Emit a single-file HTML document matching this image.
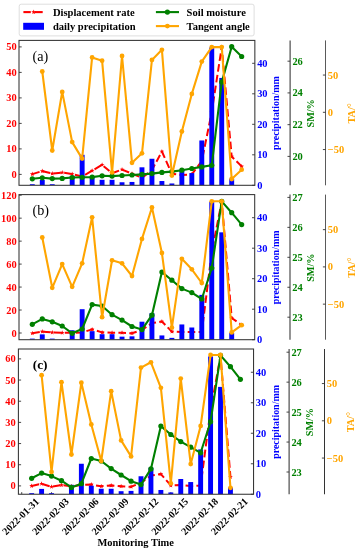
<!DOCTYPE html>
<html><head><meta charset="utf-8"><title>Monitoring chart</title>
<style>html,body{margin:0;padding:0;background:#fff;}body{width:356px;height:550px;overflow:hidden;}svg{display:block;}</style>
</head><body>
<svg width="356" height="550" viewBox="0 0 356 550" font-family='"Liberation Serif", "Times New Roman", serif'><g>
<clipPath id="clipa"><rect x="19" y="40.4" width="235.85" height="144.9"/></clipPath>
<g clip-path="url(#clipa)">
<polyline points="32.3,174.1 42.27,171.1 52.24,173.6 62.21,172.5 72.18,174 82.15,176.5 92.12,170.7 102.09,164.8 112.06,173.3 122.03,169.5 132,173.7 141.97,177.8 151.94,170 161.91,151.5 171.88,173.8 181.85,175 191.82,174.3 201.79,161 211.76,112 221.73,47 231.7,156.6 241.67,166.4" fill="none" stroke="#ff0000" stroke-width="2" stroke-dasharray="7.6 3.3" stroke-linejoin="round"/>
<polygon points="32.3,171.6 32.92,173.25 34.68,173.33 33.3,174.42 33.77,176.12 32.3,175.15 30.83,176.12 31.3,174.42 29.92,173.33 31.68,173.25" fill="#ff0000"/>
<polygon points="42.27,168.6 42.89,170.25 44.65,170.33 43.27,171.42 43.74,173.12 42.27,172.15 40.8,173.12 41.27,171.42 39.89,170.33 41.65,170.25" fill="#ff0000"/>
<polygon points="52.24,171.1 52.86,172.75 54.62,172.83 53.24,173.92 53.71,175.62 52.24,174.65 50.77,175.62 51.24,173.92 49.86,172.83 51.62,172.75" fill="#ff0000"/>
<polygon points="62.21,170 62.83,171.65 64.59,171.73 63.21,172.82 63.68,174.52 62.21,173.55 60.74,174.52 61.21,172.82 59.83,171.73 61.59,171.65" fill="#ff0000"/>
<polygon points="72.18,171.5 72.8,173.15 74.56,173.23 73.18,174.32 73.65,176.02 72.18,175.05 70.71,176.02 71.18,174.32 69.8,173.23 71.56,173.15" fill="#ff0000"/>
<polygon points="82.15,174 82.77,175.65 84.53,175.73 83.15,176.82 83.62,178.52 82.15,177.55 80.68,178.52 81.15,176.82 79.77,175.73 81.53,175.65" fill="#ff0000"/>
<polygon points="92.12,168.2 92.74,169.85 94.5,169.93 93.12,171.02 93.59,172.72 92.12,171.75 90.65,172.72 91.12,171.02 89.74,169.93 91.5,169.85" fill="#ff0000"/>
<polygon points="102.09,162.3 102.71,163.95 104.47,164.03 103.09,165.12 103.56,166.82 102.09,165.85 100.62,166.82 101.09,165.12 99.71,164.03 101.47,163.95" fill="#ff0000"/>
<polygon points="112.06,170.8 112.68,172.45 114.44,172.53 113.06,173.62 113.53,175.32 112.06,174.35 110.59,175.32 111.06,173.62 109.68,172.53 111.44,172.45" fill="#ff0000"/>
<polygon points="122.03,167 122.65,168.65 124.41,168.73 123.03,169.82 123.5,171.52 122.03,170.55 120.56,171.52 121.03,169.82 119.65,168.73 121.41,168.65" fill="#ff0000"/>
<polygon points="132,171.2 132.62,172.85 134.38,172.93 133,174.02 133.47,175.72 132,174.75 130.53,175.72 131,174.02 129.62,172.93 131.38,172.85" fill="#ff0000"/>
<polygon points="141.97,175.3 142.59,176.95 144.35,177.03 142.97,178.12 143.44,179.82 141.97,178.85 140.5,179.82 140.97,178.12 139.59,177.03 141.35,176.95" fill="#ff0000"/>
<polygon points="151.94,167.5 152.56,169.15 154.32,169.23 152.94,170.32 153.41,172.02 151.94,171.05 150.47,172.02 150.94,170.32 149.56,169.23 151.32,169.15" fill="#ff0000"/>
<polygon points="161.91,149 162.53,150.65 164.29,150.73 162.91,151.82 163.38,153.52 161.91,152.55 160.44,153.52 160.91,151.82 159.53,150.73 161.29,150.65" fill="#ff0000"/>
<polygon points="171.88,171.3 172.5,172.95 174.26,173.03 172.88,174.12 173.35,175.82 171.88,174.85 170.41,175.82 170.88,174.12 169.5,173.03 171.26,172.95" fill="#ff0000"/>
<polygon points="181.85,172.5 182.47,174.15 184.23,174.23 182.85,175.32 183.32,177.02 181.85,176.05 180.38,177.02 180.85,175.32 179.47,174.23 181.23,174.15" fill="#ff0000"/>
<polygon points="191.82,171.8 192.44,173.45 194.2,173.53 192.82,174.62 193.29,176.32 191.82,175.35 190.35,176.32 190.82,174.62 189.44,173.53 191.2,173.45" fill="#ff0000"/>
<polygon points="201.79,158.5 202.41,160.15 204.17,160.23 202.79,161.32 203.26,163.02 201.79,162.05 200.32,163.02 200.79,161.32 199.41,160.23 201.17,160.15" fill="#ff0000"/>
<polygon points="211.76,109.5 212.38,111.15 214.14,111.23 212.76,112.32 213.23,114.02 211.76,113.05 210.29,114.02 210.76,112.32 209.38,111.23 211.14,111.15" fill="#ff0000"/>
<polygon points="221.73,44.5 222.35,46.15 224.11,46.23 222.73,47.32 223.2,49.02 221.73,48.05 220.26,49.02 220.73,47.32 219.35,46.23 221.11,46.15" fill="#ff0000"/>
<polygon points="231.7,154.1 232.32,155.75 234.08,155.83 232.7,156.92 233.17,158.62 231.7,157.65 230.23,158.62 230.7,156.92 229.32,155.83 231.08,155.75" fill="#ff0000"/>
<polygon points="241.67,163.9 242.29,165.55 244.05,165.63 242.67,166.72 243.14,168.42 241.67,167.45 240.2,168.42 240.67,166.72 239.29,165.63 241.05,165.55" fill="#ff0000"/>
<rect x="29.85" y="184.23" width="4.9" height="1.07" fill="#0000ff"/>
<rect x="39.82" y="179.96" width="4.9" height="5.34" fill="#0000ff"/>
<rect x="49.79" y="184.23" width="4.9" height="1.07" fill="#0000ff"/>
<rect x="69.73" y="175.84" width="4.9" height="9.46" fill="#0000ff"/>
<rect x="79.7" y="154.8" width="4.9" height="30.5" fill="#0000ff"/>
<rect x="89.67" y="176.76" width="4.9" height="8.54" fill="#0000ff"/>
<rect x="99.64" y="179.81" width="4.9" height="5.49" fill="#0000ff"/>
<rect x="109.61" y="179.81" width="4.9" height="5.49" fill="#0000ff"/>
<rect x="119.58" y="182.25" width="4.9" height="3.05" fill="#0000ff"/>
<rect x="129.55" y="181.95" width="4.9" height="3.35" fill="#0000ff"/>
<rect x="139.52" y="167.31" width="4.9" height="18" fill="#0000ff"/>
<rect x="149.49" y="158.77" width="4.9" height="26.53" fill="#0000ff"/>
<rect x="159.46" y="181.03" width="4.9" height="4.27" fill="#0000ff"/>
<rect x="169.43" y="183.47" width="4.9" height="1.83" fill="#0000ff"/>
<rect x="179.4" y="170.05" width="4.9" height="15.25" fill="#0000ff"/>
<rect x="189.37" y="173.1" width="4.9" height="12.2" fill="#0000ff"/>
<rect x="199.34" y="140.47" width="4.9" height="44.83" fill="#0000ff"/>
<rect x="209.31" y="47.44" width="4.9" height="137.86" fill="#0000ff"/>
<rect x="219.28" y="77.94" width="4.9" height="107.36" fill="#0000ff"/>
<rect x="229.25" y="178.59" width="4.9" height="6.71" fill="#0000ff"/>
<polyline points="32.3,178.8 42.27,177.8 52.24,178.6 62.21,178.4 72.18,177.5 82.15,177.3 92.12,177.1 102.09,175.8 112.06,176.1 122.03,175.5 132,175 141.97,174.4 151.94,173.6 161.91,172.4 171.88,171.6 181.85,170.2 191.82,168.5 201.79,166.9 211.76,165.3 221.73,82.1 231.7,46.7 241.67,56.5" fill="none" stroke="#008000" stroke-width="2.1" stroke-linejoin="round"/>
<circle cx="32.3" cy="178.8" r="2.6" fill="#008000"/>
<circle cx="42.27" cy="177.8" r="2.6" fill="#008000"/>
<circle cx="52.24" cy="178.6" r="2.6" fill="#008000"/>
<circle cx="62.21" cy="178.4" r="2.6" fill="#008000"/>
<circle cx="72.18" cy="177.5" r="2.6" fill="#008000"/>
<circle cx="82.15" cy="177.3" r="2.6" fill="#008000"/>
<circle cx="92.12" cy="177.1" r="2.6" fill="#008000"/>
<circle cx="102.09" cy="175.8" r="2.6" fill="#008000"/>
<circle cx="112.06" cy="176.1" r="2.6" fill="#008000"/>
<circle cx="122.03" cy="175.5" r="2.6" fill="#008000"/>
<circle cx="132" cy="175" r="2.6" fill="#008000"/>
<circle cx="141.97" cy="174.4" r="2.6" fill="#008000"/>
<circle cx="151.94" cy="173.6" r="2.6" fill="#008000"/>
<circle cx="161.91" cy="172.4" r="2.6" fill="#008000"/>
<circle cx="171.88" cy="171.6" r="2.6" fill="#008000"/>
<circle cx="181.85" cy="170.2" r="2.6" fill="#008000"/>
<circle cx="191.82" cy="168.5" r="2.6" fill="#008000"/>
<circle cx="201.79" cy="166.9" r="2.6" fill="#008000"/>
<circle cx="211.76" cy="165.3" r="2.6" fill="#008000"/>
<circle cx="221.73" cy="82.1" r="2.6" fill="#008000"/>
<circle cx="231.7" cy="46.7" r="2.6" fill="#008000"/>
<circle cx="241.67" cy="56.5" r="2.6" fill="#008000"/>
<polyline points="42.27,71.5 52.24,150.5 62.21,91.9 72.18,142.1 82.15,158.6 92.12,57.4 102.09,60.7 112.06,172.4 122.03,56 132,162.8 141.97,153.3 151.94,59.9 161.91,49.8 171.88,175.5 181.85,131.5 191.82,93.9 201.79,61.6 211.76,47.1 221.73,47.1 231.7,179 241.67,169.7" fill="none" stroke="#ffa500" stroke-width="2.1" stroke-linejoin="round"/>
<circle cx="42.27" cy="71.5" r="2.4" fill="#ffa500"/>
<circle cx="52.24" cy="150.5" r="2.4" fill="#ffa500"/>
<circle cx="62.21" cy="91.9" r="2.4" fill="#ffa500"/>
<circle cx="72.18" cy="142.1" r="2.4" fill="#ffa500"/>
<circle cx="82.15" cy="158.6" r="2.4" fill="#ffa500"/>
<circle cx="92.12" cy="57.4" r="2.4" fill="#ffa500"/>
<circle cx="102.09" cy="60.7" r="2.4" fill="#ffa500"/>
<circle cx="112.06" cy="172.4" r="2.4" fill="#ffa500"/>
<circle cx="122.03" cy="56" r="2.4" fill="#ffa500"/>
<circle cx="132" cy="162.8" r="2.4" fill="#ffa500"/>
<circle cx="141.97" cy="153.3" r="2.4" fill="#ffa500"/>
<circle cx="151.94" cy="59.9" r="2.4" fill="#ffa500"/>
<circle cx="161.91" cy="49.8" r="2.4" fill="#ffa500"/>
<circle cx="171.88" cy="175.5" r="2.4" fill="#ffa500"/>
<circle cx="181.85" cy="131.5" r="2.4" fill="#ffa500"/>
<circle cx="191.82" cy="93.9" r="2.4" fill="#ffa500"/>
<circle cx="201.79" cy="61.6" r="2.4" fill="#ffa500"/>
<circle cx="211.76" cy="47.1" r="2.4" fill="#ffa500"/>
<circle cx="221.73" cy="47.1" r="2.4" fill="#ffa500"/>
<circle cx="231.7" cy="179" r="2.4" fill="#ffa500"/>
<circle cx="241.67" cy="169.7" r="2.4" fill="#ffa500"/>
</g>
<rect x="19" y="40.4" width="235.85" height="144.9" fill="none" stroke="#333333" stroke-width="1.05"/>
<line x1="19" y1="174.4" x2="21.7" y2="174.4" stroke="#333333" stroke-width="0.9"/>
<text x="16.7" y="177.95" font-size="10.45" fill="#ff0000" text-anchor="end" font-weight="bold">0</text>
<line x1="19" y1="148.9" x2="21.7" y2="148.9" stroke="#333333" stroke-width="0.9"/>
<text x="16.7" y="152.45" font-size="10.45" fill="#ff0000" text-anchor="end" font-weight="bold">10</text>
<line x1="19" y1="123.4" x2="21.7" y2="123.4" stroke="#333333" stroke-width="0.9"/>
<text x="16.7" y="126.95" font-size="10.45" fill="#ff0000" text-anchor="end" font-weight="bold">20</text>
<line x1="19" y1="97.9" x2="21.7" y2="97.9" stroke="#333333" stroke-width="0.9"/>
<text x="16.7" y="101.45" font-size="10.45" fill="#ff0000" text-anchor="end" font-weight="bold">30</text>
<line x1="19" y1="72.4" x2="21.7" y2="72.4" stroke="#333333" stroke-width="0.9"/>
<text x="16.7" y="75.95" font-size="10.45" fill="#ff0000" text-anchor="end" font-weight="bold">40</text>
<line x1="19" y1="46.9" x2="21.7" y2="46.9" stroke="#333333" stroke-width="0.9"/>
<text x="16.7" y="50.45" font-size="10.45" fill="#ff0000" text-anchor="end" font-weight="bold">50</text>
<line x1="252.15" y1="185.3" x2="254.85" y2="185.3" stroke="#333333" stroke-width="0.9"/>
<text x="257.15" y="188.85" font-size="10.45" fill="#0000ff" text-anchor="start" font-weight="bold">0</text>
<line x1="252.15" y1="154.8" x2="254.85" y2="154.8" stroke="#333333" stroke-width="0.9"/>
<text x="257.15" y="158.35" font-size="10.45" fill="#0000ff" text-anchor="start" font-weight="bold">10</text>
<line x1="252.15" y1="124.3" x2="254.85" y2="124.3" stroke="#333333" stroke-width="0.9"/>
<text x="257.15" y="127.85" font-size="10.45" fill="#0000ff" text-anchor="start" font-weight="bold">20</text>
<line x1="252.15" y1="93.8" x2="254.85" y2="93.8" stroke="#333333" stroke-width="0.9"/>
<text x="257.15" y="97.35" font-size="10.45" fill="#0000ff" text-anchor="start" font-weight="bold">30</text>
<line x1="252.15" y1="63.3" x2="254.85" y2="63.3" stroke="#333333" stroke-width="0.9"/>
<text x="257.15" y="66.85" font-size="10.45" fill="#0000ff" text-anchor="start" font-weight="bold">40</text>
<line x1="290.1" y1="40.4" x2="290.1" y2="185.3" stroke="#333333" stroke-width="1.05"/>
<line x1="287.5" y1="156.4" x2="290.1" y2="156.4" stroke="#333333" stroke-width="0.9"/>
<text x="292.4" y="159.95" font-size="10.45" fill="#008000" text-anchor="start" font-weight="bold">20</text>
<line x1="287.5" y1="124.66" x2="290.1" y2="124.66" stroke="#333333" stroke-width="0.9"/>
<text x="292.4" y="128.21" font-size="10.45" fill="#008000" text-anchor="start" font-weight="bold">22</text>
<line x1="287.5" y1="92.92" x2="290.1" y2="92.92" stroke="#333333" stroke-width="0.9"/>
<text x="292.4" y="96.47" font-size="10.45" fill="#008000" text-anchor="start" font-weight="bold">24</text>
<line x1="287.5" y1="61.18" x2="290.1" y2="61.18" stroke="#333333" stroke-width="0.9"/>
<text x="292.4" y="64.73" font-size="10.45" fill="#008000" text-anchor="start" font-weight="bold">26</text>
<line x1="325.5" y1="40.4" x2="325.5" y2="185.3" stroke="#5a5a5a" stroke-width="1.05"/>
<line x1="322.9" y1="75.05" x2="325.5" y2="75.05" stroke="#333333" stroke-width="0.9"/>
<text x="327.8" y="78.6" font-size="10.45" fill="#ffa500" text-anchor="start" font-weight="bold">50</text>
<line x1="322.9" y1="112.3" x2="325.5" y2="112.3" stroke="#333333" stroke-width="0.9"/>
<text x="327.8" y="115.85" font-size="10.45" fill="#ffa500" text-anchor="start" font-weight="bold">0</text>
<line x1="322.9" y1="149.55" x2="325.5" y2="149.55" stroke="#333333" stroke-width="0.9"/>
<text x="327.8" y="153.1" font-size="10.45" fill="#ffa500" text-anchor="start" font-weight="bold">−50</text>
<text transform="translate(279.3 113.15) rotate(-90)" font-size="9.95" fill="#0000ff" text-anchor="middle" font-weight="bold">precipitation/mm</text>
<text transform="translate(314.3 113.35) rotate(-90)" font-size="10.2" fill="#008000" text-anchor="middle" font-weight="bold">SM/%</text>
<text transform="translate(355.3 113.35) rotate(-90)" font-size="10.2" fill="#ffa500" text-anchor="middle" font-weight="bold">TA/°</text>
<text x="32.5" y="60.7" font-size="14.2" fill="#000" text-anchor="start" font-weight="normal">(a)</text>
</g>
<g>
<clipPath id="clipb"><rect x="19" y="194.6" width="235.7" height="145.1"/></clipPath>
<g clip-path="url(#clipb)">
<polyline points="32.3,333.3 42.27,331.6 52.24,332.4 62.21,332.8 72.18,332.8 82.15,332.4 92.12,329.4 102.09,332.4 112.06,332.8 122.03,332.8 132,333.3 141.97,329.9 151.94,323.1 161.91,321.5 171.88,331.6 181.85,332.1 191.82,332.1 201.79,332.1 211.76,252 221.73,201.5 231.7,318 241.67,325" fill="none" stroke="#ff0000" stroke-width="2" stroke-dasharray="7.6 3.3" stroke-linejoin="round"/>
<polygon points="32.3,330.8 32.92,332.45 34.68,332.53 33.3,333.62 33.77,335.32 32.3,334.35 30.83,335.32 31.3,333.62 29.92,332.53 31.68,332.45" fill="#ff0000"/>
<polygon points="42.27,329.1 42.89,330.75 44.65,330.83 43.27,331.92 43.74,333.62 42.27,332.65 40.8,333.62 41.27,331.92 39.89,330.83 41.65,330.75" fill="#ff0000"/>
<polygon points="52.24,329.9 52.86,331.55 54.62,331.63 53.24,332.72 53.71,334.42 52.24,333.45 50.77,334.42 51.24,332.72 49.86,331.63 51.62,331.55" fill="#ff0000"/>
<polygon points="62.21,330.3 62.83,331.95 64.59,332.03 63.21,333.12 63.68,334.82 62.21,333.85 60.74,334.82 61.21,333.12 59.83,332.03 61.59,331.95" fill="#ff0000"/>
<polygon points="72.18,330.3 72.8,331.95 74.56,332.03 73.18,333.12 73.65,334.82 72.18,333.85 70.71,334.82 71.18,333.12 69.8,332.03 71.56,331.95" fill="#ff0000"/>
<polygon points="82.15,329.9 82.77,331.55 84.53,331.63 83.15,332.72 83.62,334.42 82.15,333.45 80.68,334.42 81.15,332.72 79.77,331.63 81.53,331.55" fill="#ff0000"/>
<polygon points="92.12,326.9 92.74,328.55 94.5,328.63 93.12,329.72 93.59,331.42 92.12,330.45 90.65,331.42 91.12,329.72 89.74,328.63 91.5,328.55" fill="#ff0000"/>
<polygon points="102.09,329.9 102.71,331.55 104.47,331.63 103.09,332.72 103.56,334.42 102.09,333.45 100.62,334.42 101.09,332.72 99.71,331.63 101.47,331.55" fill="#ff0000"/>
<polygon points="112.06,330.3 112.68,331.95 114.44,332.03 113.06,333.12 113.53,334.82 112.06,333.85 110.59,334.82 111.06,333.12 109.68,332.03 111.44,331.95" fill="#ff0000"/>
<polygon points="122.03,330.3 122.65,331.95 124.41,332.03 123.03,333.12 123.5,334.82 122.03,333.85 120.56,334.82 121.03,333.12 119.65,332.03 121.41,331.95" fill="#ff0000"/>
<polygon points="132,330.8 132.62,332.45 134.38,332.53 133,333.62 133.47,335.32 132,334.35 130.53,335.32 131,333.62 129.62,332.53 131.38,332.45" fill="#ff0000"/>
<polygon points="141.97,327.4 142.59,329.05 144.35,329.13 142.97,330.22 143.44,331.92 141.97,330.95 140.5,331.92 140.97,330.22 139.59,329.13 141.35,329.05" fill="#ff0000"/>
<polygon points="151.94,320.6 152.56,322.25 154.32,322.33 152.94,323.42 153.41,325.12 151.94,324.15 150.47,325.12 150.94,323.42 149.56,322.33 151.32,322.25" fill="#ff0000"/>
<polygon points="161.91,319 162.53,320.65 164.29,320.73 162.91,321.82 163.38,323.52 161.91,322.55 160.44,323.52 160.91,321.82 159.53,320.73 161.29,320.65" fill="#ff0000"/>
<polygon points="171.88,329.1 172.5,330.75 174.26,330.83 172.88,331.92 173.35,333.62 171.88,332.65 170.41,333.62 170.88,331.92 169.5,330.83 171.26,330.75" fill="#ff0000"/>
<polygon points="181.85,329.6 182.47,331.25 184.23,331.33 182.85,332.42 183.32,334.12 181.85,333.15 180.38,334.12 180.85,332.42 179.47,331.33 181.23,331.25" fill="#ff0000"/>
<polygon points="191.82,329.6 192.44,331.25 194.2,331.33 192.82,332.42 193.29,334.12 191.82,333.15 190.35,334.12 190.82,332.42 189.44,331.33 191.2,331.25" fill="#ff0000"/>
<polygon points="201.79,329.6 202.41,331.25 204.17,331.33 202.79,332.42 203.26,334.12 201.79,333.15 200.32,334.12 200.79,332.42 199.41,331.33 201.17,331.25" fill="#ff0000"/>
<polygon points="211.76,249.5 212.38,251.15 214.14,251.23 212.76,252.32 213.23,254.02 211.76,253.05 210.29,254.02 210.76,252.32 209.38,251.23 211.14,251.15" fill="#ff0000"/>
<polygon points="221.73,199 222.35,200.65 224.11,200.73 222.73,201.82 223.2,203.52 221.73,202.55 220.26,203.52 220.73,201.82 219.35,200.73 221.11,200.65" fill="#ff0000"/>
<polygon points="231.7,315.5 232.32,317.15 234.08,317.23 232.7,318.32 233.17,320.02 231.7,319.05 230.23,320.02 230.7,318.32 229.32,317.23 231.08,317.15" fill="#ff0000"/>
<polygon points="241.67,322.5 242.29,324.15 244.05,324.23 242.67,325.32 243.14,327.02 241.67,326.05 240.2,327.02 240.67,325.32 239.29,324.23 241.05,324.15" fill="#ff0000"/>
<rect x="29.85" y="338.63" width="4.9" height="1.07" fill="#0000ff"/>
<rect x="39.82" y="334.36" width="4.9" height="5.34" fill="#0000ff"/>
<rect x="49.79" y="338.63" width="4.9" height="1.07" fill="#0000ff"/>
<rect x="69.73" y="330.25" width="4.9" height="9.46" fill="#0000ff"/>
<rect x="79.7" y="309.2" width="4.9" height="30.5" fill="#0000ff"/>
<rect x="89.67" y="331.16" width="4.9" height="8.54" fill="#0000ff"/>
<rect x="99.64" y="334.21" width="4.9" height="5.49" fill="#0000ff"/>
<rect x="109.61" y="334.21" width="4.9" height="5.49" fill="#0000ff"/>
<rect x="119.58" y="336.65" width="4.9" height="3.05" fill="#0000ff"/>
<rect x="129.55" y="336.34" width="4.9" height="3.35" fill="#0000ff"/>
<rect x="139.52" y="321.7" width="4.9" height="18" fill="#0000ff"/>
<rect x="149.49" y="313.16" width="4.9" height="26.53" fill="#0000ff"/>
<rect x="159.46" y="335.43" width="4.9" height="4.27" fill="#0000ff"/>
<rect x="169.43" y="337.87" width="4.9" height="1.83" fill="#0000ff"/>
<rect x="179.4" y="324.45" width="4.9" height="15.25" fill="#0000ff"/>
<rect x="189.37" y="327.5" width="4.9" height="12.2" fill="#0000ff"/>
<rect x="199.34" y="294.87" width="4.9" height="44.83" fill="#0000ff"/>
<rect x="209.31" y="201.84" width="4.9" height="137.86" fill="#0000ff"/>
<rect x="219.28" y="232.34" width="4.9" height="107.36" fill="#0000ff"/>
<rect x="229.25" y="332.99" width="4.9" height="6.71" fill="#0000ff"/>
<polyline points="32.3,324.3 42.27,318.9 52.24,321.8 62.21,326 72.18,333.3 82.15,329 92.12,304.6 102.09,306 112.06,314.7 122.03,320.1 132,326.5 141.97,329.6 151.94,315.2 161.91,272.1 171.88,280.2 181.85,288.6 191.82,292.6 201.79,299 211.76,268 221.73,201.4 231.7,212.7 241.67,224.6" fill="none" stroke="#008000" stroke-width="2.1" stroke-linejoin="round"/>
<circle cx="32.3" cy="324.3" r="2.6" fill="#008000"/>
<circle cx="42.27" cy="318.9" r="2.6" fill="#008000"/>
<circle cx="52.24" cy="321.8" r="2.6" fill="#008000"/>
<circle cx="62.21" cy="326" r="2.6" fill="#008000"/>
<circle cx="72.18" cy="333.3" r="2.6" fill="#008000"/>
<circle cx="82.15" cy="329" r="2.6" fill="#008000"/>
<circle cx="92.12" cy="304.6" r="2.6" fill="#008000"/>
<circle cx="102.09" cy="306" r="2.6" fill="#008000"/>
<circle cx="112.06" cy="314.7" r="2.6" fill="#008000"/>
<circle cx="122.03" cy="320.1" r="2.6" fill="#008000"/>
<circle cx="132" cy="326.5" r="2.6" fill="#008000"/>
<circle cx="141.97" cy="329.6" r="2.6" fill="#008000"/>
<circle cx="151.94" cy="315.2" r="2.6" fill="#008000"/>
<circle cx="161.91" cy="272.1" r="2.6" fill="#008000"/>
<circle cx="171.88" cy="280.2" r="2.6" fill="#008000"/>
<circle cx="181.85" cy="288.6" r="2.6" fill="#008000"/>
<circle cx="191.82" cy="292.6" r="2.6" fill="#008000"/>
<circle cx="201.79" cy="299" r="2.6" fill="#008000"/>
<circle cx="211.76" cy="268" r="2.6" fill="#008000"/>
<circle cx="221.73" cy="201.4" r="2.6" fill="#008000"/>
<circle cx="231.7" cy="212.7" r="2.6" fill="#008000"/>
<circle cx="241.67" cy="224.6" r="2.6" fill="#008000"/>
<polyline points="42.27,237.5 52.24,287.8 62.21,264.1 72.18,286.8 82.15,263.3 92.12,217.3 102.09,317.2 112.06,260.3 122.03,263.3 132,276 141.97,238.9 151.94,207.5 161.91,253 171.88,327.7 181.85,258.8 191.82,269.3 201.79,283 211.76,201.3 221.73,201.3 231.7,332.4 241.67,325.2" fill="none" stroke="#ffa500" stroke-width="2.1" stroke-linejoin="round"/>
<circle cx="42.27" cy="237.5" r="2.4" fill="#ffa500"/>
<circle cx="52.24" cy="287.8" r="2.4" fill="#ffa500"/>
<circle cx="62.21" cy="264.1" r="2.4" fill="#ffa500"/>
<circle cx="72.18" cy="286.8" r="2.4" fill="#ffa500"/>
<circle cx="82.15" cy="263.3" r="2.4" fill="#ffa500"/>
<circle cx="92.12" cy="217.3" r="2.4" fill="#ffa500"/>
<circle cx="102.09" cy="317.2" r="2.4" fill="#ffa500"/>
<circle cx="112.06" cy="260.3" r="2.4" fill="#ffa500"/>
<circle cx="122.03" cy="263.3" r="2.4" fill="#ffa500"/>
<circle cx="132" cy="276" r="2.4" fill="#ffa500"/>
<circle cx="141.97" cy="238.9" r="2.4" fill="#ffa500"/>
<circle cx="151.94" cy="207.5" r="2.4" fill="#ffa500"/>
<circle cx="161.91" cy="253" r="2.4" fill="#ffa500"/>
<circle cx="171.88" cy="327.7" r="2.4" fill="#ffa500"/>
<circle cx="181.85" cy="258.8" r="2.4" fill="#ffa500"/>
<circle cx="191.82" cy="269.3" r="2.4" fill="#ffa500"/>
<circle cx="201.79" cy="283" r="2.4" fill="#ffa500"/>
<circle cx="211.76" cy="201.3" r="2.4" fill="#ffa500"/>
<circle cx="221.73" cy="201.3" r="2.4" fill="#ffa500"/>
<circle cx="231.7" cy="332.4" r="2.4" fill="#ffa500"/>
<circle cx="241.67" cy="325.2" r="2.4" fill="#ffa500"/>
</g>
<rect x="19" y="194.6" width="235.7" height="145.1" fill="none" stroke="#333333" stroke-width="1.05"/>
<line x1="19" y1="333" x2="21.7" y2="333" stroke="#333333" stroke-width="0.9"/>
<text x="16.7" y="336.55" font-size="10.45" fill="#ff0000" text-anchor="end" font-weight="bold">0</text>
<line x1="19" y1="310.03" x2="21.7" y2="310.03" stroke="#333333" stroke-width="0.9"/>
<text x="16.7" y="313.59" font-size="10.45" fill="#ff0000" text-anchor="end" font-weight="bold">20</text>
<line x1="19" y1="287.07" x2="21.7" y2="287.07" stroke="#333333" stroke-width="0.9"/>
<text x="16.7" y="290.62" font-size="10.45" fill="#ff0000" text-anchor="end" font-weight="bold">40</text>
<line x1="19" y1="264.1" x2="21.7" y2="264.1" stroke="#333333" stroke-width="0.9"/>
<text x="16.7" y="267.65" font-size="10.45" fill="#ff0000" text-anchor="end" font-weight="bold">60</text>
<line x1="19" y1="241.14" x2="21.7" y2="241.14" stroke="#333333" stroke-width="0.9"/>
<text x="16.7" y="244.69" font-size="10.45" fill="#ff0000" text-anchor="end" font-weight="bold">80</text>
<line x1="19" y1="218.17" x2="21.7" y2="218.17" stroke="#333333" stroke-width="0.9"/>
<text x="16.7" y="221.72" font-size="10.45" fill="#ff0000" text-anchor="end" font-weight="bold">100</text>
<line x1="19" y1="195.2" x2="21.7" y2="195.2" stroke="#333333" stroke-width="0.9"/>
<text x="16.7" y="198.76" font-size="10.45" fill="#ff0000" text-anchor="end" font-weight="bold">120</text>
<line x1="252" y1="339.7" x2="254.7" y2="339.7" stroke="#333333" stroke-width="0.9"/>
<text x="257" y="343.25" font-size="10.45" fill="#0000ff" text-anchor="start" font-weight="bold">0</text>
<line x1="252" y1="309.2" x2="254.7" y2="309.2" stroke="#333333" stroke-width="0.9"/>
<text x="257" y="312.75" font-size="10.45" fill="#0000ff" text-anchor="start" font-weight="bold">10</text>
<line x1="252" y1="278.7" x2="254.7" y2="278.7" stroke="#333333" stroke-width="0.9"/>
<text x="257" y="282.25" font-size="10.45" fill="#0000ff" text-anchor="start" font-weight="bold">20</text>
<line x1="252" y1="248.2" x2="254.7" y2="248.2" stroke="#333333" stroke-width="0.9"/>
<text x="257" y="251.75" font-size="10.45" fill="#0000ff" text-anchor="start" font-weight="bold">30</text>
<line x1="252" y1="217.7" x2="254.7" y2="217.7" stroke="#333333" stroke-width="0.9"/>
<text x="257" y="221.25" font-size="10.45" fill="#0000ff" text-anchor="start" font-weight="bold">40</text>
<line x1="290" y1="194.6" x2="290" y2="339.7" stroke="#333333" stroke-width="1.05"/>
<line x1="287.4" y1="317.2" x2="290" y2="317.2" stroke="#333333" stroke-width="0.9"/>
<text x="292.3" y="320.75" font-size="10.45" fill="#008000" text-anchor="start" font-weight="bold">23</text>
<line x1="287.4" y1="287.25" x2="290" y2="287.25" stroke="#333333" stroke-width="0.9"/>
<text x="292.3" y="290.8" font-size="10.45" fill="#008000" text-anchor="start" font-weight="bold">24</text>
<line x1="287.4" y1="257.3" x2="290" y2="257.3" stroke="#333333" stroke-width="0.9"/>
<text x="292.3" y="260.85" font-size="10.45" fill="#008000" text-anchor="start" font-weight="bold">25</text>
<line x1="287.4" y1="227.35" x2="290" y2="227.35" stroke="#333333" stroke-width="0.9"/>
<text x="292.3" y="230.9" font-size="10.45" fill="#008000" text-anchor="start" font-weight="bold">26</text>
<line x1="287.4" y1="197.4" x2="290" y2="197.4" stroke="#333333" stroke-width="0.9"/>
<text x="292.3" y="200.95" font-size="10.45" fill="#008000" text-anchor="start" font-weight="bold">27</text>
<line x1="325.5" y1="194.6" x2="325.5" y2="339.7" stroke="#5a5a5a" stroke-width="1.05"/>
<line x1="322.9" y1="229.65" x2="325.5" y2="229.65" stroke="#333333" stroke-width="0.9"/>
<text x="327.8" y="233.2" font-size="10.45" fill="#ffa500" text-anchor="start" font-weight="bold">50</text>
<line x1="322.9" y1="266.9" x2="325.5" y2="266.9" stroke="#333333" stroke-width="0.9"/>
<text x="327.8" y="270.45" font-size="10.45" fill="#ffa500" text-anchor="start" font-weight="bold">0</text>
<line x1="322.9" y1="304.15" x2="325.5" y2="304.15" stroke="#333333" stroke-width="0.9"/>
<text x="327.8" y="307.7" font-size="10.45" fill="#ffa500" text-anchor="start" font-weight="bold">−50</text>
<text transform="translate(279.3 267.45) rotate(-90)" font-size="9.95" fill="#0000ff" text-anchor="middle" font-weight="bold">precipitation/mm</text>
<text transform="translate(314.2 267.65) rotate(-90)" font-size="10.2" fill="#008000" text-anchor="middle" font-weight="bold">SM/%</text>
<text transform="translate(355.3 267.65) rotate(-90)" font-size="10.2" fill="#ffa500" text-anchor="middle" font-weight="bold">TA/°</text>
<text x="32.5" y="214.9" font-size="14.2" fill="#000" text-anchor="start" font-weight="normal">(b)</text>
</g>
<g>
<clipPath id="clipc"><rect x="18.4" y="349" width="235.15" height="145.25"/></clipPath>
<g clip-path="url(#clipc)">
<polyline points="31.66,485.9 41.6,483.8 51.54,486.8 61.48,485.1 71.42,486.3 81.36,485 91.3,484.6 101.24,486.3 111.18,485.4 121.12,486.3 131.06,486.8 141,482.9 150.94,475.6 160.88,474.1 170.82,485.4 180.76,485 190.7,486.1 200.64,485.5 210.58,410 220.52,356 230.46,477" fill="none" stroke="#ff0000" stroke-width="2" stroke-dasharray="7.6 3.3" stroke-linejoin="round"/>
<polygon points="31.66,483.4 32.28,485.05 34.04,485.13 32.66,486.22 33.13,487.92 31.66,486.95 30.19,487.92 30.66,486.22 29.28,485.13 31.04,485.05" fill="#ff0000"/>
<polygon points="41.6,481.3 42.22,482.95 43.98,483.03 42.6,484.12 43.07,485.82 41.6,484.85 40.13,485.82 40.6,484.12 39.22,483.03 40.98,482.95" fill="#ff0000"/>
<polygon points="51.54,484.3 52.16,485.95 53.92,486.03 52.54,487.12 53.01,488.82 51.54,487.85 50.07,488.82 50.54,487.12 49.16,486.03 50.92,485.95" fill="#ff0000"/>
<polygon points="61.48,482.6 62.1,484.25 63.86,484.33 62.48,485.42 62.95,487.12 61.48,486.15 60.01,487.12 60.48,485.42 59.1,484.33 60.86,484.25" fill="#ff0000"/>
<polygon points="71.42,483.8 72.04,485.45 73.8,485.53 72.42,486.62 72.89,488.32 71.42,487.35 69.95,488.32 70.42,486.62 69.04,485.53 70.8,485.45" fill="#ff0000"/>
<polygon points="81.36,482.5 81.98,484.15 83.74,484.23 82.36,485.32 82.83,487.02 81.36,486.05 79.89,487.02 80.36,485.32 78.98,484.23 80.74,484.15" fill="#ff0000"/>
<polygon points="91.3,482.1 91.92,483.75 93.68,483.83 92.3,484.92 92.77,486.62 91.3,485.65 89.83,486.62 90.3,484.92 88.92,483.83 90.68,483.75" fill="#ff0000"/>
<polygon points="101.24,483.8 101.86,485.45 103.62,485.53 102.24,486.62 102.71,488.32 101.24,487.35 99.77,488.32 100.24,486.62 98.86,485.53 100.62,485.45" fill="#ff0000"/>
<polygon points="111.18,482.9 111.8,484.55 113.56,484.63 112.18,485.72 112.65,487.42 111.18,486.45 109.71,487.42 110.18,485.72 108.8,484.63 110.56,484.55" fill="#ff0000"/>
<polygon points="121.12,483.8 121.74,485.45 123.5,485.53 122.12,486.62 122.59,488.32 121.12,487.35 119.65,488.32 120.12,486.62 118.74,485.53 120.5,485.45" fill="#ff0000"/>
<polygon points="131.06,484.3 131.68,485.95 133.44,486.03 132.06,487.12 132.53,488.82 131.06,487.85 129.59,488.82 130.06,487.12 128.68,486.03 130.44,485.95" fill="#ff0000"/>
<polygon points="141,480.4 141.62,482.05 143.38,482.13 142,483.22 142.47,484.92 141,483.95 139.53,484.92 140,483.22 138.62,482.13 140.38,482.05" fill="#ff0000"/>
<polygon points="150.94,473.1 151.56,474.75 153.32,474.83 151.94,475.92 152.41,477.62 150.94,476.65 149.47,477.62 149.94,475.92 148.56,474.83 150.32,474.75" fill="#ff0000"/>
<polygon points="160.88,471.6 161.5,473.25 163.26,473.33 161.88,474.42 162.35,476.12 160.88,475.15 159.41,476.12 159.88,474.42 158.5,473.33 160.26,473.25" fill="#ff0000"/>
<polygon points="170.82,482.9 171.44,484.55 173.2,484.63 171.82,485.72 172.29,487.42 170.82,486.45 169.35,487.42 169.82,485.72 168.44,484.63 170.2,484.55" fill="#ff0000"/>
<polygon points="180.76,482.5 181.38,484.15 183.14,484.23 181.76,485.32 182.23,487.02 180.76,486.05 179.29,487.02 179.76,485.32 178.38,484.23 180.14,484.15" fill="#ff0000"/>
<polygon points="190.7,483.6 191.32,485.25 193.08,485.33 191.7,486.42 192.17,488.12 190.7,487.15 189.23,488.12 189.7,486.42 188.32,485.33 190.08,485.25" fill="#ff0000"/>
<polygon points="200.64,483 201.26,484.65 203.02,484.73 201.64,485.82 202.11,487.52 200.64,486.55 199.17,487.52 199.64,485.82 198.26,484.73 200.02,484.65" fill="#ff0000"/>
<polygon points="210.58,407.5 211.2,409.15 212.96,409.23 211.58,410.32 212.05,412.02 210.58,411.05 209.11,412.02 209.58,410.32 208.2,409.23 209.96,409.15" fill="#ff0000"/>
<polygon points="220.52,353.5 221.14,355.15 222.9,355.23 221.52,356.32 221.99,358.02 220.52,357.05 219.05,358.02 219.52,356.32 218.14,355.23 219.9,355.15" fill="#ff0000"/>
<polygon points="230.46,474.5 231.08,476.15 232.84,476.23 231.46,477.32 231.93,479.02 230.46,478.05 228.99,479.02 229.46,477.32 228.08,476.23 229.84,476.15" fill="#ff0000"/>
<line x1="21.72" y1="494.25" x2="21.72" y2="492.15" stroke="#333333" stroke-width="0.9"/>
<line x1="51.54" y1="494.25" x2="51.54" y2="492.15" stroke="#333333" stroke-width="0.9"/>
<line x1="81.36" y1="494.25" x2="81.36" y2="492.15" stroke="#333333" stroke-width="0.9"/>
<line x1="111.18" y1="494.25" x2="111.18" y2="492.15" stroke="#333333" stroke-width="0.9"/>
<line x1="141" y1="494.25" x2="141" y2="492.15" stroke="#333333" stroke-width="0.9"/>
<line x1="170.82" y1="494.25" x2="170.82" y2="492.15" stroke="#333333" stroke-width="0.9"/>
<line x1="200.64" y1="494.25" x2="200.64" y2="492.15" stroke="#333333" stroke-width="0.9"/>
<line x1="230.46" y1="494.25" x2="230.46" y2="492.15" stroke="#333333" stroke-width="0.9"/>
<rect x="29.21" y="493.18" width="4.9" height="1.07" fill="#0000ff"/>
<rect x="39.15" y="488.91" width="4.9" height="5.34" fill="#0000ff"/>
<rect x="49.09" y="493.18" width="4.9" height="1.07" fill="#0000ff"/>
<rect x="68.97" y="484.8" width="4.9" height="9.46" fill="#0000ff"/>
<rect x="78.91" y="463.75" width="4.9" height="30.5" fill="#0000ff"/>
<rect x="88.85" y="485.71" width="4.9" height="8.54" fill="#0000ff"/>
<rect x="98.79" y="488.76" width="4.9" height="5.49" fill="#0000ff"/>
<rect x="108.73" y="488.76" width="4.9" height="5.49" fill="#0000ff"/>
<rect x="118.67" y="491.2" width="4.9" height="3.05" fill="#0000ff"/>
<rect x="128.61" y="490.89" width="4.9" height="3.35" fill="#0000ff"/>
<rect x="138.55" y="476.25" width="4.9" height="18" fill="#0000ff"/>
<rect x="148.49" y="467.72" width="4.9" height="26.53" fill="#0000ff"/>
<rect x="158.43" y="489.98" width="4.9" height="4.27" fill="#0000ff"/>
<rect x="168.37" y="492.42" width="4.9" height="1.83" fill="#0000ff"/>
<rect x="178.31" y="479" width="4.9" height="15.25" fill="#0000ff"/>
<rect x="188.25" y="482.05" width="4.9" height="12.2" fill="#0000ff"/>
<rect x="198.19" y="449.42" width="4.9" height="44.83" fill="#0000ff"/>
<rect x="208.13" y="356.39" width="4.9" height="137.86" fill="#0000ff"/>
<rect x="218.07" y="386.89" width="4.9" height="107.36" fill="#0000ff"/>
<rect x="228.01" y="487.54" width="4.9" height="6.71" fill="#0000ff"/>
<polyline points="31.66,478.3 41.6,473.1 51.54,476.1 61.48,480.7 71.42,487.4 81.36,483.7 91.3,458.5 101.24,461 111.18,468.6 121.12,475 131.06,481.2 141,484.6 150.94,468.9 160.88,426.1 170.82,434.5 180.76,441.6 190.7,447.2 200.64,452.8 210.58,421.7 220.52,355.4 230.46,366.7 240.4,379.3" fill="none" stroke="#008000" stroke-width="2.1" stroke-linejoin="round"/>
<circle cx="31.66" cy="478.3" r="2.6" fill="#008000"/>
<circle cx="41.6" cy="473.1" r="2.6" fill="#008000"/>
<circle cx="51.54" cy="476.1" r="2.6" fill="#008000"/>
<circle cx="61.48" cy="480.7" r="2.6" fill="#008000"/>
<circle cx="71.42" cy="487.4" r="2.6" fill="#008000"/>
<circle cx="81.36" cy="483.7" r="2.6" fill="#008000"/>
<circle cx="91.3" cy="458.5" r="2.6" fill="#008000"/>
<circle cx="101.24" cy="461" r="2.6" fill="#008000"/>
<circle cx="111.18" cy="468.6" r="2.6" fill="#008000"/>
<circle cx="121.12" cy="475" r="2.6" fill="#008000"/>
<circle cx="131.06" cy="481.2" r="2.6" fill="#008000"/>
<circle cx="141" cy="484.6" r="2.6" fill="#008000"/>
<circle cx="150.94" cy="468.9" r="2.6" fill="#008000"/>
<circle cx="160.88" cy="426.1" r="2.6" fill="#008000"/>
<circle cx="170.82" cy="434.5" r="2.6" fill="#008000"/>
<circle cx="180.76" cy="441.6" r="2.6" fill="#008000"/>
<circle cx="190.7" cy="447.2" r="2.6" fill="#008000"/>
<circle cx="200.64" cy="452.8" r="2.6" fill="#008000"/>
<circle cx="210.58" cy="421.7" r="2.6" fill="#008000"/>
<circle cx="220.52" cy="355.4" r="2.6" fill="#008000"/>
<circle cx="230.46" cy="366.7" r="2.6" fill="#008000"/>
<circle cx="240.4" cy="379.3" r="2.6" fill="#008000"/>
<polyline points="41.6,375.2 51.54,471.9 61.48,382.2 71.42,454.5 81.36,382.7 91.3,424.5 101.24,461 111.18,391.2 121.12,440.4 131.06,456.4 141,367.6 150.94,362.3 160.88,387.8 170.82,483.4 180.76,378.6 190.7,464.1 200.64,425.9 210.58,355 220.52,355 230.46,487.8" fill="none" stroke="#ffa500" stroke-width="2.1" stroke-linejoin="round"/>
<circle cx="41.6" cy="375.2" r="2.4" fill="#ffa500"/>
<circle cx="51.54" cy="471.9" r="2.4" fill="#ffa500"/>
<circle cx="61.48" cy="382.2" r="2.4" fill="#ffa500"/>
<circle cx="71.42" cy="454.5" r="2.4" fill="#ffa500"/>
<circle cx="81.36" cy="382.7" r="2.4" fill="#ffa500"/>
<circle cx="91.3" cy="424.5" r="2.4" fill="#ffa500"/>
<circle cx="101.24" cy="461" r="2.4" fill="#ffa500"/>
<circle cx="111.18" cy="391.2" r="2.4" fill="#ffa500"/>
<circle cx="121.12" cy="440.4" r="2.4" fill="#ffa500"/>
<circle cx="131.06" cy="456.4" r="2.4" fill="#ffa500"/>
<circle cx="141" cy="367.6" r="2.4" fill="#ffa500"/>
<circle cx="150.94" cy="362.3" r="2.4" fill="#ffa500"/>
<circle cx="160.88" cy="387.8" r="2.4" fill="#ffa500"/>
<circle cx="170.82" cy="483.4" r="2.4" fill="#ffa500"/>
<circle cx="180.76" cy="378.6" r="2.4" fill="#ffa500"/>
<circle cx="190.7" cy="464.1" r="2.4" fill="#ffa500"/>
<circle cx="200.64" cy="425.9" r="2.4" fill="#ffa500"/>
<circle cx="210.58" cy="355" r="2.4" fill="#ffa500"/>
<circle cx="220.52" cy="355" r="2.4" fill="#ffa500"/>
<circle cx="230.46" cy="487.8" r="2.4" fill="#ffa500"/>
</g>
<rect x="18.4" y="349" width="235.15" height="145.25" fill="none" stroke="#333333" stroke-width="1.05"/>
<line x1="18.4" y1="485.9" x2="21.1" y2="485.9" stroke="#333333" stroke-width="0.9"/>
<text x="15.6" y="489.45" font-size="10.45" fill="#ff0000" text-anchor="end" font-weight="bold">0</text>
<line x1="18.4" y1="464.73" x2="21.1" y2="464.73" stroke="#333333" stroke-width="0.9"/>
<text x="15.6" y="468.28" font-size="10.45" fill="#ff0000" text-anchor="end" font-weight="bold">10</text>
<line x1="18.4" y1="443.56" x2="21.1" y2="443.56" stroke="#333333" stroke-width="0.9"/>
<text x="15.6" y="447.11" font-size="10.45" fill="#ff0000" text-anchor="end" font-weight="bold">20</text>
<line x1="18.4" y1="422.39" x2="21.1" y2="422.39" stroke="#333333" stroke-width="0.9"/>
<text x="15.6" y="425.94" font-size="10.45" fill="#ff0000" text-anchor="end" font-weight="bold">30</text>
<line x1="18.4" y1="401.22" x2="21.1" y2="401.22" stroke="#333333" stroke-width="0.9"/>
<text x="15.6" y="404.77" font-size="10.45" fill="#ff0000" text-anchor="end" font-weight="bold">40</text>
<line x1="18.4" y1="380.05" x2="21.1" y2="380.05" stroke="#333333" stroke-width="0.9"/>
<text x="15.6" y="383.6" font-size="10.45" fill="#ff0000" text-anchor="end" font-weight="bold">50</text>
<line x1="18.4" y1="358.88" x2="21.1" y2="358.88" stroke="#333333" stroke-width="0.9"/>
<text x="15.6" y="362.43" font-size="10.45" fill="#ff0000" text-anchor="end" font-weight="bold">60</text>
<line x1="250.85" y1="494.25" x2="253.55" y2="494.25" stroke="#333333" stroke-width="0.9"/>
<text x="255.85" y="497.8" font-size="10.45" fill="#0000ff" text-anchor="start" font-weight="bold">0</text>
<line x1="250.85" y1="463.75" x2="253.55" y2="463.75" stroke="#333333" stroke-width="0.9"/>
<text x="255.85" y="467.3" font-size="10.45" fill="#0000ff" text-anchor="start" font-weight="bold">10</text>
<line x1="250.85" y1="433.25" x2="253.55" y2="433.25" stroke="#333333" stroke-width="0.9"/>
<text x="255.85" y="436.8" font-size="10.45" fill="#0000ff" text-anchor="start" font-weight="bold">20</text>
<line x1="250.85" y1="402.75" x2="253.55" y2="402.75" stroke="#333333" stroke-width="0.9"/>
<text x="255.85" y="406.3" font-size="10.45" fill="#0000ff" text-anchor="start" font-weight="bold">30</text>
<line x1="250.85" y1="372.25" x2="253.55" y2="372.25" stroke="#333333" stroke-width="0.9"/>
<text x="255.85" y="375.8" font-size="10.45" fill="#0000ff" text-anchor="start" font-weight="bold">40</text>
<line x1="289.1" y1="349" x2="289.1" y2="494.25" stroke="#333333" stroke-width="1.05"/>
<line x1="286.5" y1="472" x2="289.1" y2="472" stroke="#333333" stroke-width="0.9"/>
<text x="291.4" y="475.55" font-size="10.45" fill="#008000" text-anchor="start" font-weight="bold">23</text>
<line x1="286.5" y1="442.05" x2="289.1" y2="442.05" stroke="#333333" stroke-width="0.9"/>
<text x="291.4" y="445.6" font-size="10.45" fill="#008000" text-anchor="start" font-weight="bold">24</text>
<line x1="286.5" y1="412.1" x2="289.1" y2="412.1" stroke="#333333" stroke-width="0.9"/>
<text x="291.4" y="415.65" font-size="10.45" fill="#008000" text-anchor="start" font-weight="bold">25</text>
<line x1="286.5" y1="382.15" x2="289.1" y2="382.15" stroke="#333333" stroke-width="0.9"/>
<text x="291.4" y="385.7" font-size="10.45" fill="#008000" text-anchor="start" font-weight="bold">26</text>
<line x1="286.5" y1="352.2" x2="289.1" y2="352.2" stroke="#333333" stroke-width="0.9"/>
<text x="291.4" y="355.75" font-size="10.45" fill="#008000" text-anchor="start" font-weight="bold">27</text>
<line x1="324.5" y1="349" x2="324.5" y2="494.25" stroke="#333333" stroke-width="1.05"/>
<line x1="321.9" y1="383.55" x2="324.5" y2="383.55" stroke="#333333" stroke-width="0.9"/>
<text x="326.8" y="387.1" font-size="10.45" fill="#ffa500" text-anchor="start" font-weight="bold">50</text>
<line x1="321.9" y1="420.8" x2="324.5" y2="420.8" stroke="#333333" stroke-width="0.9"/>
<text x="326.8" y="424.35" font-size="10.45" fill="#ffa500" text-anchor="start" font-weight="bold">0</text>
<line x1="321.9" y1="458.05" x2="324.5" y2="458.05" stroke="#333333" stroke-width="0.9"/>
<text x="326.8" y="461.6" font-size="10.45" fill="#ffa500" text-anchor="start" font-weight="bold">−50</text>
<text transform="translate(279.3 421.93) rotate(-90)" font-size="9.95" fill="#0000ff" text-anchor="middle" font-weight="bold">precipitation/mm</text>
<text transform="translate(313.3 422.12) rotate(-90)" font-size="10.2" fill="#008000" text-anchor="middle" font-weight="bold">SM/%</text>
<text transform="translate(354.3 422.12) rotate(-90)" font-size="10.2" fill="#ffa500" text-anchor="middle" font-weight="bold">TA/°</text>
<text x="32.7" y="368.8" font-size="13.4" fill="#000" text-anchor="start" font-weight="bold">(c)</text>
</g>
<text transform="translate(23.08 518.86) rotate(-45)" font-size="10.15" fill="#000" text-anchor="middle" font-weight="bold">2022-01-31</text>
<text transform="translate(52.91 518.86) rotate(-45)" font-size="10.15" fill="#000" text-anchor="middle" font-weight="bold">2022-02-03</text>
<text transform="translate(82.73 518.86) rotate(-45)" font-size="10.15" fill="#000" text-anchor="middle" font-weight="bold">2022-02-06</text>
<text transform="translate(112.55 518.86) rotate(-45)" font-size="10.15" fill="#000" text-anchor="middle" font-weight="bold">2022-02-09</text>
<text transform="translate(142.37 518.86) rotate(-45)" font-size="10.15" fill="#000" text-anchor="middle" font-weight="bold">2022-02-12</text>
<text transform="translate(172.19 518.86) rotate(-45)" font-size="10.15" fill="#000" text-anchor="middle" font-weight="bold">2022-02-15</text>
<text transform="translate(202.01 518.86) rotate(-45)" font-size="10.15" fill="#000" text-anchor="middle" font-weight="bold">2022-02-18</text>
<text transform="translate(231.83 518.86) rotate(-45)" font-size="10.15" fill="#000" text-anchor="middle" font-weight="bold">2022-02-21</text>
<text x="135.7" y="545.5" font-size="10.45" fill="#000" text-anchor="middle" font-weight="bold">Monitoring Time</text>
<rect x="19.2" y="4.2" width="234.9" height="31.7" rx="2" fill="#fff" fill-opacity="0.8" stroke="#dedede" stroke-width="1"/>
<line x1="23.4" y1="12.1" x2="30.8" y2="12.1" stroke="#ff0000" stroke-width="2.1"/>
<line x1="34.6" y1="12.1" x2="42.7" y2="12.1" stroke="#ff0000" stroke-width="2.1"/>
<polygon points="33.7,9.6 34.32,11.25 36.08,11.33 34.7,12.42 35.17,14.12 33.7,13.15 32.23,14.12 32.7,12.42 31.32,11.33 33.08,11.25" fill="#ff0000"/>
<rect x="23.2" y="22.8" width="20.8" height="7" fill="#0000ff"/>
<line x1="155.9" y1="12.1" x2="179" y2="12.1" stroke="#008000" stroke-width="2.1"/>
<circle cx="167.4" cy="12.1" r="2.6" fill="#008000"/>
<line x1="155.9" y1="26.1" x2="179" y2="26.1" stroke="#ffa500" stroke-width="2.1"/>
<circle cx="167.4" cy="26.1" r="2.4" fill="#ffa500"/>
<text x="52.9" y="15.5" font-size="10.55" fill="#000" text-anchor="start" font-weight="bold">Displacement rate</text>
<text x="52.9" y="29.9" font-size="10.55" fill="#000" text-anchor="start" font-weight="bold">daily precipitation</text>
<text x="186.6" y="15.5" font-size="10.55" fill="#000" text-anchor="start" font-weight="bold">Soil moisture</text>
<text x="186.6" y="29.9" font-size="10.55" fill="#000" text-anchor="start" font-weight="bold">Tangent angle</text></svg>
</body></html>
